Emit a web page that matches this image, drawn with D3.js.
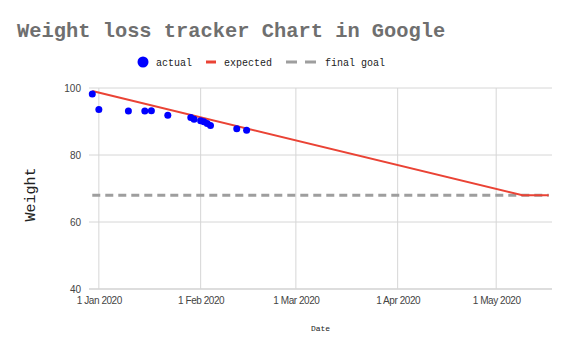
<!DOCTYPE html>
<html>
<head>
<meta charset="utf-8">
<script src="https://cdn.jsdelivr.net/npm/d3@7"></script>
<style>
  body { margin: 0; background: #fff; }
  svg { display: block; }
</style>
</head>
<body>
<div id="chart"></div>
<script>
// weight tracker data
const actualDates = ["2019-12-30", "2020-01-01", "2020-01-10", "2020-01-15", "2020-01-17", "2020-01-22",
  "2020-01-29", "2020-01-30", "2020-02-01", "2020-02-02", "2020-02-03", "2020-02-04", "2020-02-12", "2020-02-15"];
const actualWeights = [98.2, 93.6, 93.1, 93.1, 93.2, 91.9, 91.2, 90.7, 90.2, 89.9, 89.4, 88.8, 87.8, 87.4];

const expectedDates = ["2019-12-30", "2020-05-09", "2020-05-17"];
const expectedWeights = [99.1, 68, 68];

const goalDates = ["2019-12-30", "2020-05-17"];
const goalWeights = [68, 68];

const xTickDates = ["2020-01-01", "2020-02-01", "2020-03-01", "2020-04-01", "2020-05-01"];
const yTicks = [40, 60, 80, 100];

const W = 570, H = 352;
const margin = { top: 88, right: 18, bottom: 63, left: 89 };
const parse = d3.utcParse("%Y-%m-%d");

const svg = d3.select("#chart").append("svg")
  .attr("width", W)
  .attr("height", H);

const x = d3.scaleUtc()
  .domain([parse("2019-12-29"), parse("2020-05-18")])
  .range([margin.left, W - margin.right]);

const y = d3.scaleLinear()
  .domain([40, 100])
  .range([H - margin.bottom, margin.top]);

// title
svg.append("text")
  .attr("x", 17)
  .attr("y", 37)
  .attr("font-family", "'Liberation Mono', 'Courier New', monospace")
  .attr("font-weight", "bold")
  .attr("font-size", "20.4px")
  .attr("fill", "#6f6f6f")
  .text("Weight loss tracker Chart in Google");

// gridlines
svg.append("g")
  .selectAll("line")
  .data(yTicks)
  .join("line")
  .attr("x1", x.range()[0])
  .attr("x2", x.range()[1])
  .attr("y1", d => y(d))
  .attr("y2", d => y(d))
  .attr("stroke", d => d === 40 ? "#bbb" : "#d6d6d6")
  .attr("stroke-width", 1);

svg.append("g")
  .selectAll("line")
  .data(xTickDates.map(parse))
  .join("line")
  .attr("x1", d => x(d))
  .attr("x2", d => x(d))
  .attr("y1", y(100))
  .attr("y2", y(40))
  .attr("stroke", "#d6d6d6")
  .attr("stroke-width", 1);

// y axis
const yAxis = svg.append("g")
  .attr("transform", `translate(${margin.left - 6},0)`)
  .call(d3.axisLeft(y).tickValues(yTicks).tickSize(0).tickPadding(2));
yAxis.select(".domain").remove();
yAxis.selectAll("text")
  .attr("font-family", "'Liberation Sans', Arial, sans-serif")
  .attr("font-size", "10px")
  .attr("fill", "#444");

// x axis
const xAxis = svg.append("g")
  .attr("transform", `translate(0,${H - margin.bottom})`)
  .call(d3.axisBottom(x).tickValues(xTickDates.map(parse)).tickSize(0).tickPadding(8)
    .tickFormat(d3.utcFormat("%-d %b %Y")));
xAxis.select(".domain").remove();
xAxis.selectAll("text")
  .attr("font-family", "'Liberation Sans', Arial, sans-serif")
  .attr("font-size", "10px")
  .attr("letter-spacing", "-0.45px")
  .attr("fill", "#444");

// axis titles
svg.append("text")
  .attr("x", (x.range()[0] + x.range()[1]) / 2)
  .attr("y", 331)
  .attr("text-anchor", "middle")
  .attr("font-family", "'Liberation Mono', 'Courier New', monospace")
  .attr("font-size", "8px")
  .attr("fill", "#222")
  .text("Date");

svg.append("text")
  .attr("transform", `translate(35,${(y(100) + y(40)) / 2 + 6}) rotate(-90)`)
  .attr("text-anchor", "middle")
  .attr("font-family", "'Liberation Mono', 'Courier New', monospace")
  .attr("font-size", "15px")
  .attr("fill", "#222")
  .text("Weight");

// final goal dashed line
const goalData = goalDates.map((d, i) => ({ date: parse(d), value: goalWeights[i] }));
svg.append("path")
  .datum(goalData)
  .attr("d", d3.line().x(d => x(d.date)).y(d => y(d.value)))
  .attr("fill", "none")
  .attr("stroke", "#9e9e9e")
  .attr("stroke-width", 3)
  .attr("stroke-dasharray", "8,5");

// expected line
const expectedData = expectedDates.map((d, i) => ({ date: parse(d), value: expectedWeights[i] }));
svg.append("path")
  .datum(expectedData)
  .attr("d", d3.line().x(d => x(d.date)).y(d => y(d.value)))
  .attr("fill", "none")
  .attr("stroke", "#ea4335")
  .attr("stroke-width", 2);

// actual points
const actualData = actualDates.map((d, i) => ({ date: parse(d), value: actualWeights[i] }));
svg.append("g")
  .selectAll("circle")
  .data(actualData)
  .join("circle")
  .attr("cx", d => x(d.date))
  .attr("cy", d => y(d.value))
  .attr("r", 3.5)
  .attr("fill", "#0000ff");

// legend
const legend = svg.append("g")
  .attr("font-family", "'Liberation Mono', 'Courier New', monospace")
  .attr("font-size", "10px")
  .attr("fill", "#222");

legend.append("circle")
  .attr("cx", 143).attr("cy", 62).attr("r", 5.5)
  .attr("fill", "#0000ff");
legend.append("text").attr("x", 156).attr("y", 65.5).text("actual");

legend.append("line")
  .attr("x1", 206).attr("x2", 216).attr("y1", 62).attr("y2", 62)
  .attr("stroke", "#ea4335").attr("stroke-width", 3);
legend.append("text").attr("x", 224).attr("y", 65.5).text("expected");

legend.append("line")
  .attr("x1", 286).attr("x2", 316).attr("y1", 62).attr("y2", 62)
  .attr("stroke", "#9e9e9e").attr("stroke-width", 3)
  .attr("stroke-dasharray", "11,8");
legend.append("text").attr("x", 325).attr("y", 65.5).text("final goal");
</script>
</body>
</html>
